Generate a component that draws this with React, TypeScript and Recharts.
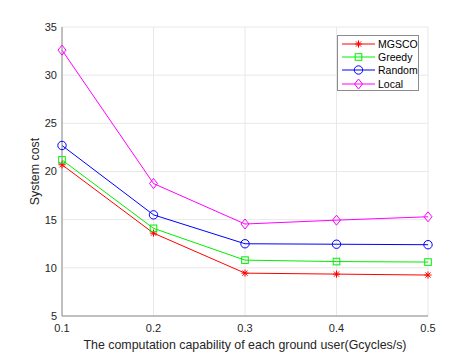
import { LineChart, Line, XAxis, YAxis, CartesianGrid } from "recharts";

const xValues = [0.1, 0.2, 0.3, 0.4, 0.5];
const mgsco = [20.7, 13.6, 9.45, 9.35, 9.25];
const greedy = [21.2, 14.1, 10.8, 10.65, 10.6];
const random = [22.7, 15.5, 12.5, 12.45, 12.4];
const local = [32.6, 18.75, 14.55, 14.95, 15.3];
const xTicks = [0.1, 0.2, 0.3, 0.4, 0.5];
const yTicks = [5, 10, 15, 20, 25, 30, 35];

const data = xValues.map((x, i) => ({
  x,
  mgsco: mgsco[i],
  greedy: greedy[i],
  random: random[i],
  local: local[i],
}));

const FONT = "'Liberation Sans', Arial, Helvetica, sans-serif";
const AXIS = "#8c8c8c";

type Shape = "star" | "square" | "circle" | "diamond";

const series: { key: string; label: string; color: string; shape: Shape }[] = [
  { key: "mgsco", label: "MGSCO", color: "#ff0000", shape: "star" },
  { key: "greedy", label: "Greedy", color: "#00ee00", shape: "square" },
  { key: "random", label: "Random", color: "#0000ff", shape: "circle" },
  { key: "local", label: "Local", color: "#ff00ff", shape: "diamond" },
];

function Marker({ cx, cy, color, shape }: { cx: number; cy: number; color: string; shape: Shape }) {
  if (cx == null || cy == null) return null;
  if (shape === "star") {
    const r = 3.6;
    const d = r * 0.72;
    return (
      <g stroke={color} strokeWidth={1}>
        <line x1={cx - r} y1={cy} x2={cx + r} y2={cy} />
        <line x1={cx} y1={cy - r} x2={cx} y2={cy + r} />
        <line x1={cx - d} y1={cy - d} x2={cx + d} y2={cy + d} />
        <line x1={cx - d} y1={cy + d} x2={cx + d} y2={cy - d} />
      </g>
    );
  }
  if (shape === "square") {
    return <rect x={cx - 3.3} y={cy - 3.3} width={6.6} height={6.6} fill="none" stroke={color} strokeWidth={1} />;
  }
  if (shape === "circle") {
    return <circle cx={cx} cy={cy} r={4.2} fill="none" stroke={color} strokeWidth={1} />;
  }
  return (
    <polygon
      points={`${cx},${cy - 5} ${cx + 4},${cy} ${cx},${cy + 5} ${cx - 4},${cy}`}
      fill="none"
      stroke={color}
      strokeWidth={1}
    />
  );
}

function LegendBox() {
  return (
    <div
      style={{
        position: "absolute",
        left: 337,
        top: 35,
        boxSizing: "border-box",
        width: 82,
        height: 56,
        border: `1px solid ${AXIS}`,
        background: "#fff",
        padding: "1px 0 0 3px",
        fontFamily: FONT,
        fontSize: 10.5,
        color: "#000",
      }}
    >
      {series.map((s) => (
        <div key={s.key} style={{ display: "flex", alignItems: "center", height: 13.3 }}>
          <svg width={35} height={12} style={{ marginRight: 2, flexShrink: 0 }}>
            <line x1={1} y1={6} x2={34} y2={6} stroke={s.color} strokeWidth={1} />
            <Marker cx={17.5} cy={6} color={s.color} shape={s.shape} />
          </svg>
          <span>{s.label}</span>
        </div>
      ))}
    </div>
  );
}

export default function App() {
  return (
    <div style={{ position: "absolute", left: 0, top: 0, width: 474, height: 355, background: "#fff" }}>
      <LineChart width={474} height={355} data={data} margin={{ top: 27, right: 46, left: 0, bottom: 0 }}>
        <CartesianGrid stroke="#e8e8e8" strokeWidth={1} />
        <XAxis
          dataKey="x"
          type="number"
          domain={[0.1, 0.5]}
          ticks={xTicks}
          tickFormatter={(v: number) => v.toFixed(1)}
          height={39}
          tickSize={6}
          tickMargin={2}
          tickLine={false}
          axisLine={{ stroke: AXIS }}
          tick={{ fill: "#262626", fontSize: 11, fontFamily: FONT }}
          label={{
            value: "The computation capability of each ground user(Gcycles/s)",
            position: "insideBottom",
            offset: 6,
            style: { fill: "#262626", fontSize: 12.4, fontFamily: FONT },
          }}
        />
        <XAxis
          xAxisId="top"
          orientation="top"
          dataKey="x"
          type="number"
          domain={[0.1, 0.5]}
          height={0}
          tick={false}
          tickLine={false}
          axisLine={{ stroke: AXIS }}
        />
        <YAxis
          type="number"
          domain={[5, 35]}
          ticks={yTicks}
          width={62}
          tickSize={3}
          tickMargin={2}
          tickLine={false}
          axisLine={{ stroke: AXIS }}
          tick={{ fill: "#262626", fontSize: 11, fontFamily: FONT }}
          label={{
            value: "System cost",
            angle: -90,
            position: "insideLeft",
            offset: 35,
            style: { fill: "#262626", fontSize: 12.4, fontFamily: FONT, textAnchor: "middle" },
          }}
        />
        <YAxis
          yAxisId="right"
          orientation="right"
          type="number"
          domain={[5, 35]}
          width={0}
          tick={false}
          tickLine={false}
          axisLine={{ stroke: AXIS }}
        />
        {series.map((s) => (
          <Line
            key={s.key}
            dataKey={s.key}
            name={s.label}
            type="linear"
            stroke={s.color}
            strokeWidth={1}
            isAnimationActive={false}
            dot={(p: any) => <Marker key={`${s.key}-${p.index}`} cx={p.cx} cy={p.cy} color={s.color} shape={s.shape} />}
            activeDot={false}
          />
        ))}
      </LineChart>
      <LegendBox />
    </div>
  );
}
